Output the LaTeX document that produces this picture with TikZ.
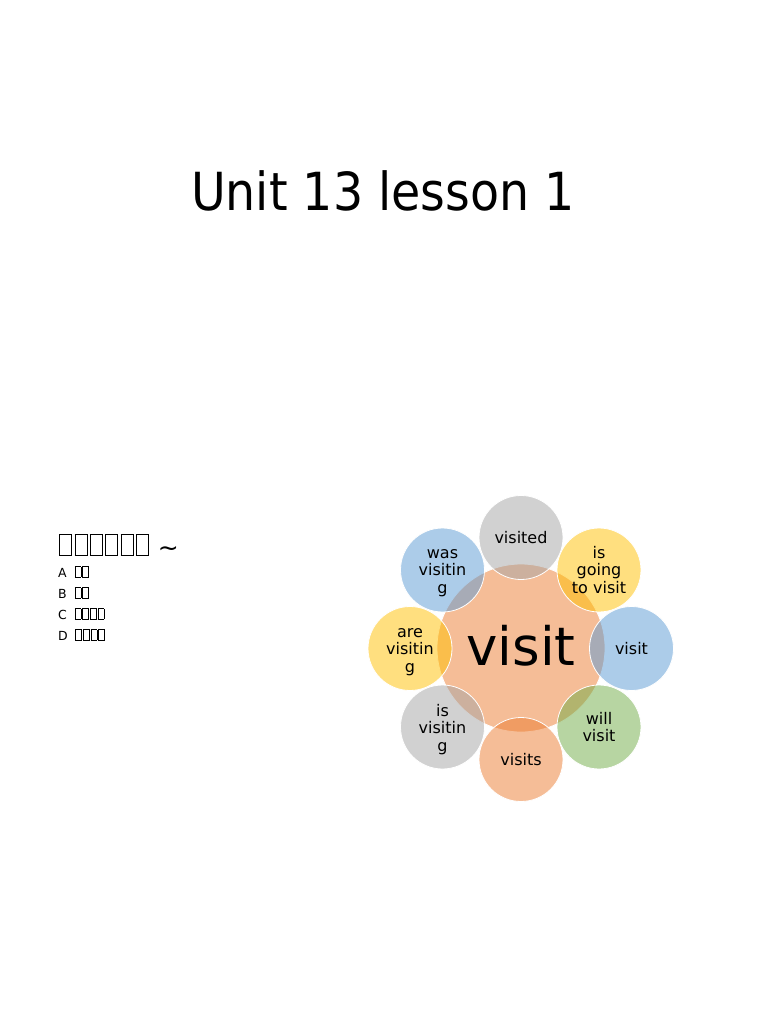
\documentclass[tikz,border=0pt]{standalone}
\usepackage{fontspec}
\usepackage{graphicx}
\setmainfont{DejaVu Sans}
\definecolor{accblue}{HTML}{5B9BD5}
\definecolor{accorange}{HTML}{ED7D31}
\definecolor{accgray}{HTML}{A5A5A5}
\definecolor{accgold}{HTML}{FFC000}
\definecolor{accgreen}{HTML}{70AD47}
\newcommand\tofubox{\kern.045em\vbox{\hrule height .036em\hbox{\vrule width .036em height .81em depth 0pt\kern .45em\vrule width .036em height .81em depth 0pt}\hrule height .036em}\kern.045em}
\tikzset{
  hub/.style={circle, minimum size=168pt, inner sep=0pt, draw=white, line width=0.8pt, fill=accorange, fill opacity=0.5},
  sat/.style={circle, minimum size=84pt, inner sep=0pt, draw=white, line width=0.8pt, fill opacity=0.5},
  lbl/.style={inner sep=0pt, align=center, font=\fontsize{16}{17.5}\selectfont},
  smallline/.style={anchor=base west, inner sep=0pt, font=\fontsize{12.5}{14}\selectfont}
}
\begin{document}
\begin{tikzpicture}[x=1pt,y=-1pt]
\path[use as bounding box] (0,0) rectangle (768,1024);
\fill[white] (0,0) rectangle (768,1024);
% title
\node[anchor=base, inner sep=0pt] (title) at (383,211) {\scalebox{0.905}[1]{\fontsize{52.5}{60}\selectfont Unit 13 lesson 1}};
% left text
\node[anchor=base west, inner sep=0pt, font=\fontsize{25}{28}\selectfont] (q) at (58,556) {\tofubox\tofubox\tofubox\tofubox\tofubox\tofubox{} \char`\~};
\node[smallline] (oa) at (58,577.3) {\makebox[16pt][l]{A}\tofubox\tofubox};
\node[smallline] (ob) at (58,598.3) {\makebox[16pt][l]{B}\tofubox\tofubox};
\node[smallline] (oc) at (58,619.5) {\makebox[16pt][l]{C}\tofubox\tofubox\tofubox\tofubox};
\node[smallline] (od) at (58,640.5) {\makebox[16.6pt][l]{D}\tofubox\tofubox\tofubox\tofubox};
% radial diagram: circles
\node[hub] (hub) at (521,648) {};
\node[sat, fill=accgray]   (s1) at (521,537.5) {};
\node[sat, fill=accgold]   (s2) at (599,570) {};
\node[sat, fill=accblue]   (s3) at (631.5,648.5) {};
\node[sat, fill=accgreen]  (s4) at (599,727) {};
\node[sat, fill=accorange] (s5) at (521,759.5) {};
\node[sat, fill=accgray]   (s6) at (442.5,727) {};
\node[sat, fill=accgold]   (s7) at (410,648.5) {};
\node[sat, fill=accblue]   (s8) at (442.5,570) {};
% labels
\node[inner sep=0pt, font=\fontsize{53}{60}\selectfont, text height=40.3pt, text depth=6pt] (thub) at (hub.center) {visit};
\node[lbl] (t1) at (s1.center) {visited};
\node[lbl] (t2) at (s2.center) {is\\going\\to visit};
\node[lbl] (t3) at (s3.center) {visit};
\node[lbl] (t4) at (s4.center) {will\\visit};
\node[lbl] (t5) at (s5.center) {visits};
\node[lbl] (t6) at ([yshift=-2.5pt]s6.center) {is\\visitin\\g};
\node[lbl] (t7) at ([yshift=-3.5pt]s7.center) {are\\visitin\\g};
\node[lbl] (t8) at ([yshift=-3pt]s8.center) {was\\visitin\\g};
\end{tikzpicture}
\end{document}
